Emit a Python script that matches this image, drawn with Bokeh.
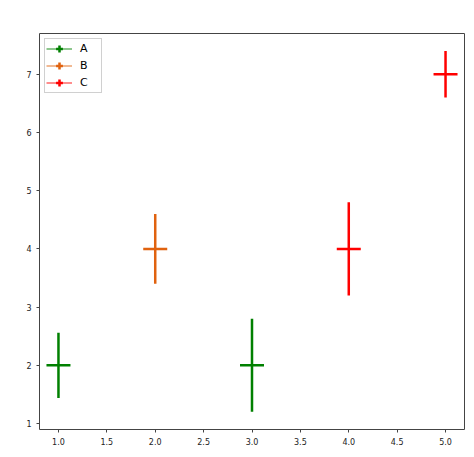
from bokeh.plotting import figure
from bokeh.models import ColumnDataSource, Legend, LegendItem, FixedTicker, NumeralTickFormatter, Range1d
from bokeh.embed import file_html
from bokeh.resources import INLINE

names = ["A", "B", "C"]
colors = ["green", "#e0620f", "red"]
xs = [[1, 3], [2], [4, 5]]
ys = [[2, 2], [4], [4, 7]]
errs = [[0.56, 0.8], [0.6], [0.8, 0.4]]
x_ticks = [1.0, 1.5, 2.0, 2.5, 3.0, 3.5, 4.0, 4.5, 5.0]
y_ticks = [1, 2, 3, 4, 5, 6, 7]

p = figure(width=466, height=457, output_backend="svg", toolbar_location=None,
           x_range=Range1d(0.804, 5.196), y_range=Range1d(0.897, 7.70),
           min_border_left=39, min_border_right=2, min_border_top=33, min_border_bottom=28)
p.grid.visible = False
p.outline_line_color = "#444444"
p.outline_line_width = 1
for ax in (p.xaxis[0], p.yaxis[0]):
    ax.major_label_text_font = "DejaVu Sans"
    ax.major_label_text_font_size = "8px"
    ax.major_label_text_color = "#222222"
    ax.minor_tick_line_color = None
    ax.axis_line_color = None
    ax.major_tick_out = 3
    ax.major_tick_in = 0
    ax.major_tick_line_color = "#444444"
p.xaxis.ticker = FixedTicker(ticks=x_ticks)
p.xaxis.formatter = NumeralTickFormatter(format="0.0")
p.yaxis.ticker = FixedTicker(ticks=y_ticks)

items = []
for name, c, x, y, e in zip(names, colors, xs, ys, errs):
    src = ColumnDataSource(dict(x=x, y=y, lo=[a - b for a, b in zip(y, e)], hi=[a + b for a, b in zip(y, e)]))
    p.segment(x0="x", y0="lo", x1="x", y1="hi", source=src, line_color=c, line_width=2.5)
    p.scatter(x="x", y="y", source=src, marker="dash", size=24, line_color=c, line_width=2.5)
    off = ColumnDataSource(dict(x=[-100, -99], y=[-100, -100]))
    lr = p.line(x="x", y="y", source=off, line_color=c, line_width=1.5, line_alpha=0.6)
    vr = p.scatter(x="x", y="y", source=off, marker="cross", size=10, line_color=c, line_width=2.5)
    items.append(LegendItem(label=name, renderers=[lr, vr]))

legend = Legend(items=items, location="top_left", label_text_font="DejaVu Sans",
                label_text_font_size="11px", label_text_color="black",
                spacing=0, padding=1, margin=5, label_standoff=8,
                glyph_width=26, glyph_height=17, label_height=16,
                border_line_color="#d0d0d0", border_line_alpha=1.0,
                background_fill_alpha=0.8)
p.add_layout(legend)

open("out.html", "w").write(file_html(p, INLINE))
